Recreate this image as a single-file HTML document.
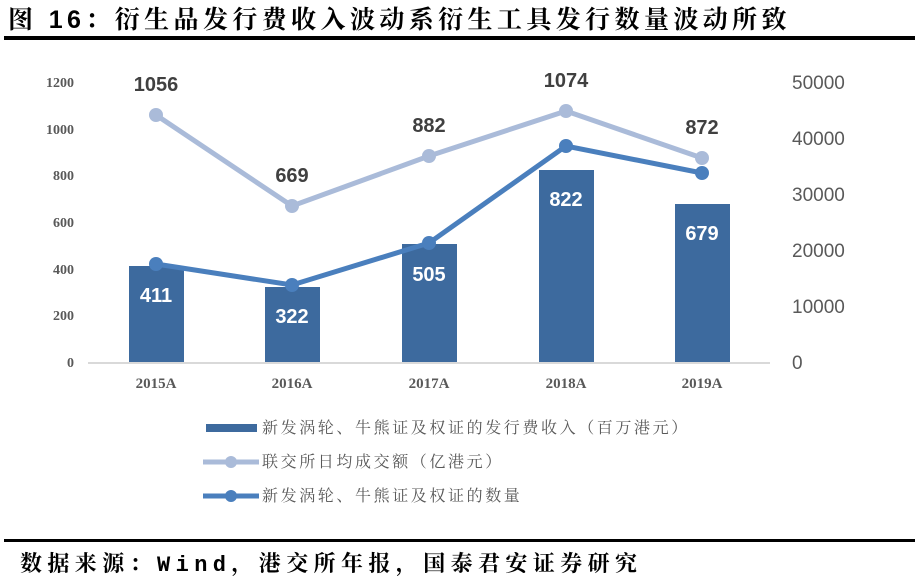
<!DOCTYPE html>
<html><head><meta charset="utf-8"><style>
body{margin:0;background:#fff;width:919px;height:581px;overflow:hidden}
svg{display:block}
</style></head><body>
<svg width="919" height="581" xmlns="http://www.w3.org/2000/svg">
<text x="8" y="28" font-family="'Liberation Sans','Noto Serif CJK SC',serif" font-size="25" font-weight="bold" letter-spacing="4.4" fill="#000">图 16：衍生品发行费收入波动系衍生工具发行数量波动所致</text>
<rect x="4" y="36" width="911" height="4" fill="#000"/>
<g font-family="'Liberation Serif',serif" font-size="14" font-weight="bold" fill="#595959" text-anchor="end">
<text x="74" y="87">1200</text><text x="74" y="134">1000</text><text x="74" y="180">800</text><text x="74" y="227">600</text><text x="74" y="274">400</text><text x="74" y="320">200</text><text x="74" y="367">0</text>
</g>
<g font-family="'Liberation Sans',sans-serif" font-size="19" fill="#595959" text-anchor="start">
<text x="792" y="89">50000</text><text x="792" y="145">40000</text><text x="792" y="201">30000</text><text x="792" y="257">20000</text><text x="792" y="313">10000</text><text x="792" y="369">0</text>
</g>
<line x1="88" y1="363" x2="770" y2="363" stroke="#d9d9d9" stroke-width="2"/>
<g fill="#3d6a9e">
<rect x="129" y="266" width="55" height="96"/>
<rect x="265" y="287" width="55" height="75"/>
<rect x="402" y="244" width="55" height="118"/>
<rect x="539" y="170" width="55" height="192"/>
<rect x="675" y="204" width="55" height="158"/>
</g>
<polyline points="156,115 292,206 429,156 566,111 702,158" fill="none" stroke="#aabbd9" stroke-width="5"/>
<g fill="#aabbd9"><circle cx="156" cy="115" r="7"/><circle cx="292" cy="206" r="7"/><circle cx="429" cy="156" r="7"/><circle cx="566" cy="111" r="7"/><circle cx="702" cy="158" r="7"/></g>
<polyline points="156,264 292,285 429,243 566,146 702,173" fill="none" stroke="#4a7fbd" stroke-width="5"/>
<g fill="#4a7fbd"><circle cx="156" cy="264" r="7"/><circle cx="292" cy="285" r="7"/><circle cx="429" cy="243" r="7"/><circle cx="566" cy="146" r="7"/><circle cx="702" cy="173" r="7"/></g>
<g font-family="'Liberation Sans',sans-serif" font-size="20" font-weight="bold" fill="#404040" text-anchor="middle">
<text x="156" y="91">1056</text><text x="292" y="182">669</text><text x="429" y="132">882</text><text x="566" y="87">1074</text><text x="702" y="134">872</text>
</g>
<g font-family="'Liberation Sans',sans-serif" font-size="20" font-weight="bold" fill="#fff" text-anchor="middle">
<text x="156" y="302">411</text><text x="292" y="323">322</text><text x="429" y="281">505</text><text x="566" y="206">822</text><text x="702" y="240">679</text>
</g>
<g font-family="'Liberation Serif',serif" font-size="15" font-weight="bold" fill="#595959" text-anchor="middle">
<text x="156" y="388">2015A</text><text x="292" y="388">2016A</text><text x="429" y="388">2017A</text><text x="566" y="388">2018A</text><text x="702" y="388">2019A</text>
</g>
<rect x="206" y="424" width="51" height="8" fill="#3d6a9e"/>
<line x1="203" y1="462" x2="259" y2="462" stroke="#aabbd9" stroke-width="5"/><circle cx="231" cy="462" r="6" fill="#aabbd9"/>
<line x1="203" y1="496" x2="259" y2="496" stroke="#4a7fbd" stroke-width="5"/><circle cx="231" cy="496" r="6" fill="#4a7fbd"/>
<g font-family="'Liberation Serif','Noto Serif CJK SC',serif" font-size="16" letter-spacing="2.6" fill="#595959">
<text x="262" y="433">新发涡轮、牛熊证及权证的发行费收入（百万港元）</text>
<text x="262" y="467">联交所日均成交额（亿港元）</text>
<text x="262" y="501">新发涡轮、牛熊证及权证的数量</text>
</g>
<rect x="4" y="539" width="911" height="3" fill="#000"/>
<text x="20" y="571" font-family="'Liberation Mono','Noto Serif CJK SC',monospace" font-size="22" font-weight="bold" letter-spacing="5.4" fill="#000">数据来源：Wind，港交所年报，国泰君安证券研究</text>
</svg>
</body></html>
